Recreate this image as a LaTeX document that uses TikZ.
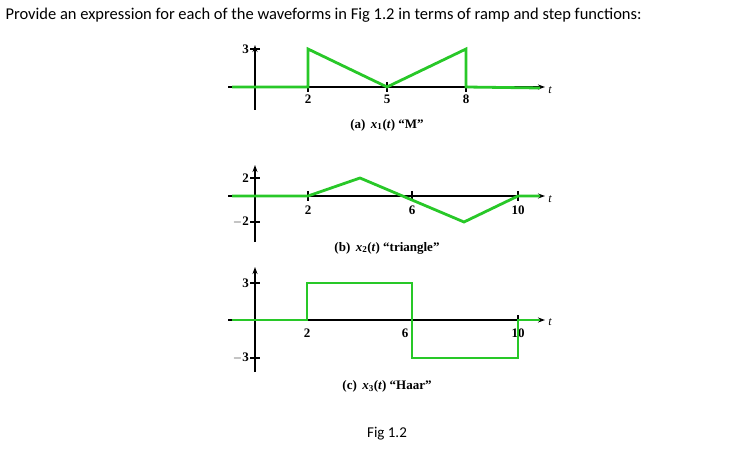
\documentclass[tikz,border=0pt]{standalone}
\usepackage{fontspec}
\setmainfont{Liberation Serif}
\newfontfamily\calib{Carlito}
\usetikzlibrary{arrows.meta}
\definecolor{wave}{RGB}{40,200,40}
\begin{document}
\begin{tikzpicture}[x=1pt,y=-1pt,
  ax/.style={line width=1.6pt,-{Stealth[length=7pt,width=5pt]}},
  vax/.style={line width=1.6pt,-{Stealth[length=7pt,width=5pt]}},
  sig/.style={wave,line width=2.8pt,line join=miter},
  tk/.style={line width=1.3pt},
  lab/.style={font=\fontsize{13}{14}\selectfont\bfseries,inner sep=1pt},
  captxt/.style={font=\fontsize{13}{15}\selectfont\bfseries}]
\useasboundingbox (0,0) rectangle (738,462);
\node[anchor=west,font=\calib\fontsize{16.5}{18}\selectfont] (title) at (2,15) {Provide an expression for each of the waveforms in Fig 1.2 in terms of ramp and step functions:};
% (a)
\draw[vax] (255,110) -- (255,45);
\draw[ax] (228,87) -- (545,87);
\node[font=\itshape\fontsize{12}{14}\selectfont] (ta) at (550,90) {t};
\draw[tk] (250,49) -- (260,49); \node[lab,anchor=east] (a3) at (250,49) {3};
\foreach \x/\l in {308/2,387/5,466/8}{\draw[tk] (\x,82)--(\x,92); \node[lab] (a\l) at (\x,99) {\l};}
\draw[sig] (232,87) -- (308,87) -- (308,49) -- (387,87) -- (466,49) -- (466,87) -- (540,88);
\node[captxt] (capa) at (387,125) {(a)\, \textit{x}$_{\mathbf 1}$(\textit{t}) “M”};
% (b)
\draw[vax] (255,242) -- (255,165);
\draw[ax] (228,196) -- (545,196);
\node[font=\itshape\fontsize{12}{14}\selectfont] (tb) at (550,199) {t};
\draw[tk] (250,178) -- (260,178); \node[lab,anchor=east] (b2) at (250,178) {2};
\draw[tk] (250,222) -- (260,222); \node[lab,anchor=east] (bm2) at (250,222) {$-$2};
\foreach \x/\l in {308/2,412/6,518/10}{\draw[tk] (\x,191)--(\x,201); \node[lab] (b\l) at (\x,210) {\l};}
\draw[sig] (232,196) -- (308,196) -- (360,178) -- (464,222) -- (518,196) -- (540,196);
\node[captxt] (capb) at (387,248) {(b)\, \textit{x}$_{\mathbf 2}$(\textit{t}) “triangle”};
% (c)
\draw[vax] (255,372) -- (255,267);
\draw[ax] (228,320) -- (545,320);
\node[font=\itshape\fontsize{12}{14}\selectfont] (tc) at (550,322) {t};
\draw[tk] (250,283) -- (260,283); \node[lab,anchor=east] (c3) at (250,283) {3};
\draw[tk] (250,358) -- (260,358); \node[lab,anchor=east] (cm3) at (250,358) {$-$3};
\draw[tk] (518,315)--(518,325);
\node[lab] (c2) at (307,333) {2};
\node[lab] (c6) at (405,333) {6};
\node[lab] (c10) at (518,333) {10};
\draw[sig] (232,320) -- (307,320) -- (307,283) -- (412,283) -- (412,358) -- (518,358) -- (518,320) -- (540,320);
\node[captxt] (capc) at (387,386) {(c)\, \textit{x}$_{\mathbf 3}$(\textit{t}) “Haar”};
\node[font=\calib\fontsize{15}{17}\selectfont] (fig) at (387,434) {Fig 1.2};
\end{tikzpicture}
\end{document}
